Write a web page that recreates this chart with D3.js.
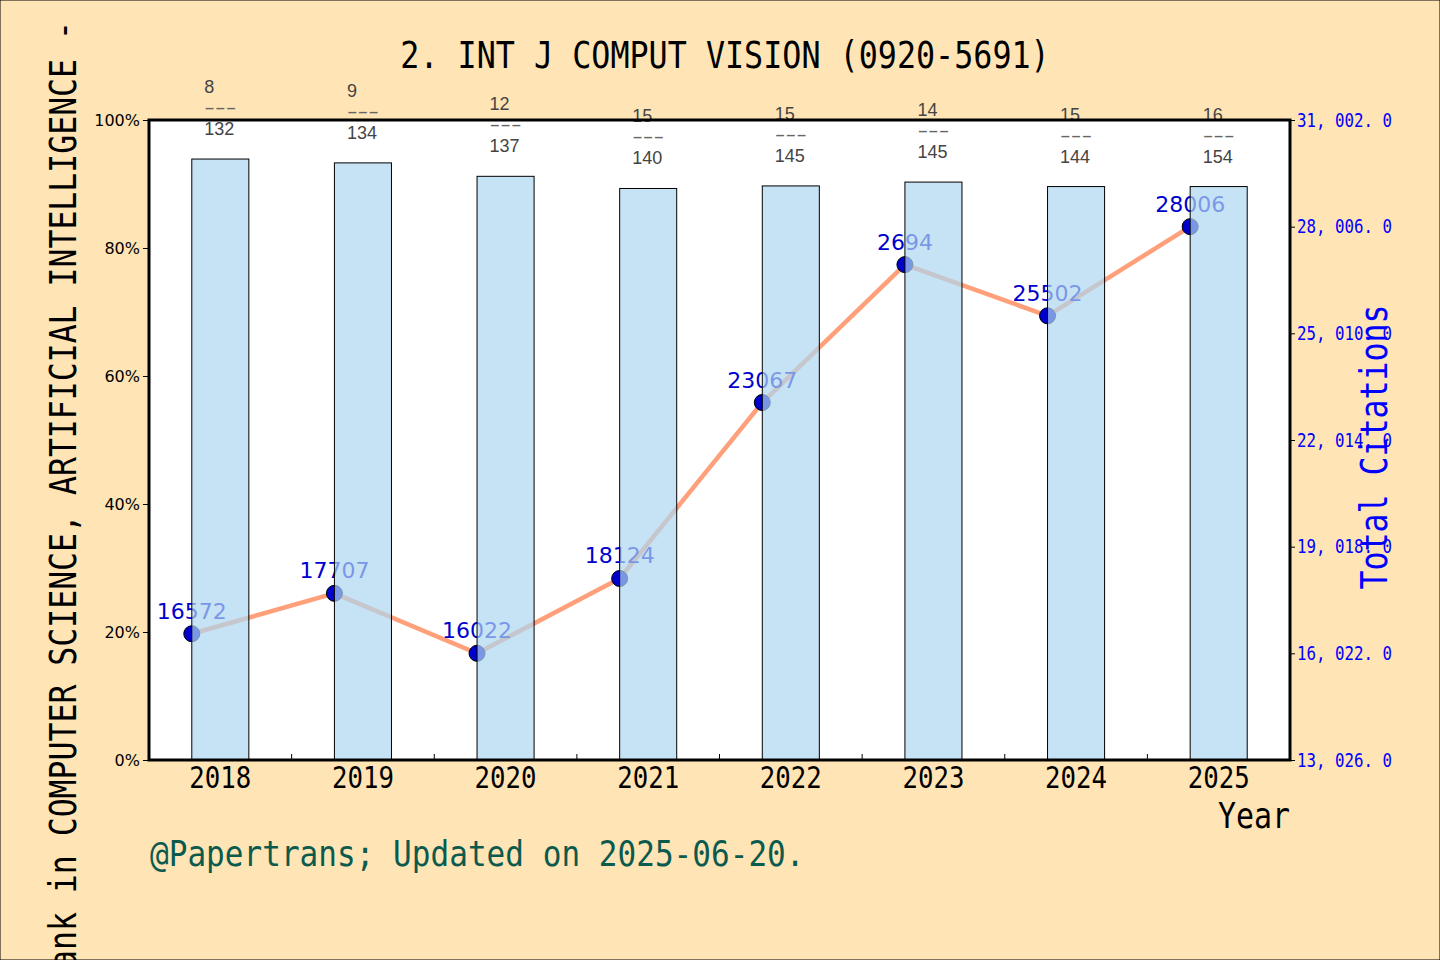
<!DOCTYPE html>
<html>
<head>
<meta charset="utf-8">
<script src="https://cdn.jsdelivr.net/npm/d3@7"></script>
<style>
  body { margin: 0; background: #FFE4B5; }
  svg { display: block; }
</style>
</head>
<body>
<div id="chart"></div>
<script>
// data
var years = ["2018", "2019", "2020", "2021", "2022", "2023", "2024", "2025"];
var ranks = [8, 9, 12, 15, 15, 14, 15, 16];
var totals = [132, 134, 137, 140, 145, 145, 144, 154];
var rankPct = [93.9, 93.3, 91.2, 89.3, 89.7, 90.3, 89.6, 89.6];
var citations = [16572, 17707, 16022, 18124, 23067, 26940, 25502, 28006];
var citeLabels = ["16572", "17707", "16022", "18124", "23067", "2694", "25502", "28006"];
var citeTicks = [13026, 16022, 19018, 22014, 25010, 28006, 31002];
var pctTicks = [0, 20, 40, 60, 80, 100];

var svgWidth = 1440;
var svgHeight = 960;
var plot = { left: 149, right: 1290, top: 120, bottom: 760 };

var monoFont = "'DejaVu Sans Mono', 'Liberation Mono', monospace";

// squeeze mono text to the narrow look of the original font
function fitChars(sel, perChar) {
  sel.each(function() {
    var n = this.textContent.length;
    d3.select(this)
      .attr("textLength", n * perChar)
      .attr("lengthAdjust", "spacingAndGlyphs");
  });
}

var svg = d3.select("#chart")
  .append("svg")
  .attr("width", svgWidth)
  .attr("height", svgHeight);

svg.append("rect")
  .attr("width", svgWidth)
  .attr("height", svgHeight)
  .attr("fill", "#FFE4B5")
  .attr("stroke", "#000")
  .attr("stroke-width", 1);

svg.append("rect")
  .attr("x", plot.left)
  .attr("y", plot.top)
  .attr("width", plot.right - plot.left)
  .attr("height", plot.bottom - plot.top)
  .attr("fill", "#fff");

// scales
var xBand = d3.scaleBand()
  .domain(years)
  .range([plot.left, plot.right])
  .paddingInner(0)
  .paddingOuter(0);
var bw = xBand.bandwidth();

var yPct = d3.scaleLinear()
  .domain([0, 100])
  .range([plot.bottom, plot.top]);

var yCite = d3.scaleLinear()
  .domain([13026, 31002])
  .range([plot.bottom, plot.top]);

var lineData = years.map(function(y, i) {
  return { year: y, value: citations[i], label: citeLabels[i] };
});
var px = function(d) { return xBand(d.year) + bw * 0.3; };

// citation line (under the bars)
var line = d3.line()
  .x(px)
  .y(function(d) { return yCite(d.value); });

svg.append("path")
  .datum(lineData)
  .attr("d", line)
  .attr("fill", "none")
  .attr("stroke", "#FFA07A")
  .attr("stroke-width", 4.5);

svg.selectAll(".pt")
  .data(lineData)
  .enter()
  .append("circle")
  .attr("class", "pt")
  .attr("cx", px)
  .attr("cy", function(d) { return yCite(d.value); })
  .attr("r", 8)
  .attr("fill", "#0000CD")
  .attr("stroke", "#000")
  .attr("stroke-width", 1);

svg.selectAll(".ptLabel")
  .data(lineData)
  .enter()
  .append("text")
  .attr("class", "ptLabel")
  .attr("x", px)
  .attr("y", function(d) { return yCite(d.value) - 15; })
  .attr("text-anchor", "middle")
  .attr("font-family", "'DejaVu Sans', sans-serif")
  .attr("font-size", 22)
  .attr("fill", "#0000CD")
  .text(function(d) { return d.label; });

// rank bars, drawn over the line with some transparency
var barData = years.map(function(y, i) {
  return { year: y, pct: rankPct[i], rank: ranks[i], total: totals[i] };
});

svg.selectAll(".bar")
  .data(barData)
  .enter()
  .append("rect")
  .attr("class", "bar")
  .attr("x", function(d) { return xBand(d.year) + bw * 0.3; })
  .attr("y", function(d) { return yPct(d.pct); })
  .attr("width", bw * 0.4)
  .attr("height", function(d) { return plot.bottom - yPct(d.pct); })
  .attr("fill", "rgba(174, 214, 241, 0.7)")
  .attr("stroke", "#000")
  .attr("stroke-width", 1);

// rank / total notes above each bar
var notes = svg.selectAll(".note")
  .data(barData)
  .enter()
  .append("g")
  .attr("class", "note")
  .attr("transform", function(d) {
    return "translate(" + (xBand(d.year) + bw / 2 - 16) + "," + (yPct(d.pct) - 24) + ")";
  })
  .attr("font-family", "'Liberation Sans', Arial, sans-serif")
  .attr("font-size", 18)
  .attr("fill", "#444");

notes.append("text")
  .attr("y", -42)
  .text(function(d) { return d.rank; });
notes.append("text")
  .attr("y", -21)
  .attr("textLength", 32)
  .attr("lengthAdjust", "spacingAndGlyphs")
  .attr("fill", "#666")
  .text("---");
notes.append("text")
  .attr("y", 0)
  .text(function(d) { return d.total; });

// left axis
var leftAxis = d3.axisLeft(yPct)
  .tickValues(pctTicks)
  .tickSize(6)
  .tickFormat(function(d) { return d + "%"; });
var gLeft = svg.append("g")
  .attr("transform", "translate(" + plot.left + ",0)")
  .call(leftAxis);
gLeft.select(".domain").remove();
gLeft.selectAll("text")
  .attr("font-family", "'DejaVu Sans', sans-serif")
  .attr("font-size", 16)
  .attr("fill", "#000");

// right axis
var rightAxis = d3.axisRight(yCite)
  .tickValues(citeTicks)
  .tickSize(5)
  .tickFormat(function(d) {
    return d3.format(",.1f")(d).replace(",", ", ").replace(".", ". ");
  });
var gRight = svg.append("g")
  .attr("transform", "translate(" + plot.right + ",0)")
  .call(rightAxis);
gRight.select(".domain").remove();
gRight.selectAll("line").attr("stroke", "#000");
gRight.selectAll("text")
  .attr("font-family", monoFont)
  .attr("font-size", 19)
  .attr("fill", "#0000FF")
  .attr("x", 7)
  .call(fitChars, 9.5);

// bottom axis: labels at band centres, small inner ticks at band edges
var gBottom = svg.append("g");
gBottom.selectAll(".xlab")
  .data(years)
  .enter()
  .append("text")
  .attr("class", "xlab")
  .attr("x", function(d) { return xBand(d) + bw / 2; })
  .attr("y", 788)
  .attr("text-anchor", "middle")
  .attr("font-family", monoFont)
  .attr("font-size", 31)
  .attr("fill", "#000")
  .text(function(d) { return d; })
  .call(fitChars, 15.5);

gBottom.selectAll(".xtick")
  .data(years.slice(1))
  .enter()
  .append("line")
  .attr("class", "xtick")
  .attr("x1", function(d) { return xBand(d); })
  .attr("x2", function(d) { return xBand(d); })
  .attr("y1", plot.bottom)
  .attr("y2", plot.bottom - 6)
  .attr("stroke", "#000");

// plot frame
svg.append("rect")
  .attr("x", plot.left)
  .attr("y", plot.top)
  .attr("width", plot.right - plot.left)
  .attr("height", plot.bottom - plot.top)
  .attr("fill", "none")
  .attr("stroke", "#000")
  .attr("stroke-width", 3);

// titles and labels
svg.append("text")
  .attr("x", 725)
  .attr("y", 68)
  .attr("text-anchor", "middle")
  .attr("font-family", monoFont)
  .attr("font-size", 37)
  .attr("fill", "#000")
  .text("2. INT J COMPUT VISION (0920-5691)")
  .call(fitChars, 19.1);

svg.append("text")
  .attr("x", 1290)
  .attr("y", 828)
  .attr("text-anchor", "end")
  .attr("font-family", monoFont)
  .attr("font-size", 35)
  .attr("fill", "#000")
  .text("Year")
  .call(fitChars, 18);

svg.append("text")
  .attr("x", 150)
  .attr("y", 866)
  .attr("font-family", monoFont)
  .attr("font-size", 36)
  .attr("fill", "#0b5a4e")
  .text("@Papertrans; Updated on 2025-06-20.")
  .call(fitChars, 18.7);

// left label runs past the bottom edge, as in the original
svg.append("text")
  .attr("transform", "translate(76, 988) rotate(-90)")
  .attr("font-family", monoFont)
  .attr("font-size", 37)
  .attr("fill", "#000")
  .text("Rank in COMPUTER SCIENCE, ARTIFICIAL INTELLIGENCE -")
  .call(fitChars, 18.96);

svg.append("text")
  .attr("transform", "translate(1387, 447) rotate(-90)")
  .attr("text-anchor", "middle")
  .attr("font-family", monoFont)
  .attr("font-size", 37)
  .attr("fill", "#0000FF")
  .text("Total Citations")
  .call(fitChars, 19);
</script>
</body>
</html>
